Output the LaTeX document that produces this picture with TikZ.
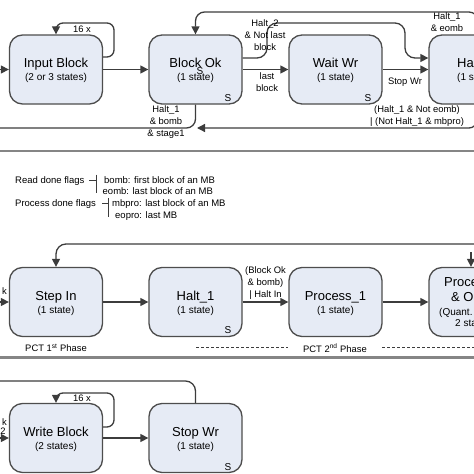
\documentclass[tikz,border=0pt]{standalone}
\usepackage{fontspec}
\setmainfont{Liberation Sans}
\usetikzlibrary{arrows.meta,calc}
\definecolor{boxf}{HTML}{E6EBF5}
\definecolor{boxd}{HTML}{4D4D4D}
\definecolor{linec}{HTML}{3C3C3C}
\definecolor{sepc}{HTML}{858585}
\begin{document}
\begin{tikzpicture}[x=1pt,y=-1pt,
  stbox/.style={draw=boxd, fill=boxf, line width=1.3pt, rounded corners=13pt, minimum width=93pt, minimum height=69pt, inner sep=0pt},
  ttl/.style={font=\fontsize{13}{15}\selectfont, anchor=base, inner sep=0pt},
  substyle/.style={font=\fontsize{10}{12}\selectfont, anchor=base, inner sep=0pt},
  ttlw/.style={font=\fontsize{13}{15}\selectfont, anchor=base west, inner sep=0pt},
  subw/.style={font=\fontsize{10}{12}\selectfont, anchor=base west, inner sep=0pt},
  lbl/.style={font=\fontsize{9.4}{12}\selectfont, inner sep=0pt, align=center},
  cornerS/.style={font=\fontsize{10}{12}\selectfont, inner sep=0pt},
  leg/.style={font=\fontsize{9.5}{11}\selectfont, anchor=base west, inner sep=0pt},
  arr/.style={draw=linec, line width=1.3pt, -{Triangle[length=8pt,width=8pt]}},
  ln/.style={draw=linec, line width=1.3pt},
  sepl/.style={draw=sepc, line width=2.2pt},
  brk/.style={draw=linec, line width=0.8pt},
  dsh/.style={draw=linec, line width=0.7pt, dash pattern=on 3pt off 2pt}]
\useasboundingbox (0,0) rectangle (474,474);
\clip (0,0) rectangle (474,474);

% ---------- top row ----------
\node[stbox] (ib) at (56,69.5) {};
\node[ttl] (ibt) at (56,67.5) {Input Block};
\node[substyle] (ibs) at (56,80.5) {(2 or 3 states)};

\node[stbox] (bo) at (195.5,69.5) {};
\node[ttl] (bot) at (195.5,67.5) {Block Ok};
\node[substyle] (bos) at (195.5,80.5) {(1 state)};
\node[cornerS] (box) at (200,71) {S};
\node[cornerS] (boc) at (228,98) {S};

\node[stbox] (ww) at (335.5,69.5) {};
\node[ttl] (wwt) at (335.5,67.5) {Wait Wr};
\node[substyle] (wws) at (335.5,80.5) {(1 state)};
\node[cornerS] (wwc) at (368,98) {S};

\node[stbox] (hb) at (475.5,69.5) {};
\node[ttlw] (hbt) at (457,67.5) {Ha};
\node[subw] (hbs) at (457,80.5) {(1 s};

\coordinate (e1) at (0,69.5);
\draw[arr] (e1) -- (ib.west);
\draw[arr, rounded corners=7pt] ([yshift=12.5pt]ib.east) -- (114,57) -- (114,23) -- (56,23) -- (ib.north);
\node[lbl] (l16a) at (82,29) {16 x};
\draw[arr] (ib.east) -- (bo.west);
\coordinate (fbt) at (478,45);
\draw[arr, rounded corners=9pt] (fbt) -- (478,12) -- (195.5,12) -- (bo.north);
\draw[arr] (bo.east) -- (ww.west);
\node[lbl] (llb) at (267,82.5) {last\\block};
\draw[arr, rounded corners=10pt] ([yshift=11.5pt]bo.east) -- (267,58) -- (267,23) -- (405,23) -- (405,58) -- ([yshift=11.5pt]hb.west);
\node[lbl] (lh2) at (265,35) {Halt\_2\\\& Not last\\block};
\draw[arr] (ww.east) -- (hb.west);
\node[lbl] (lsw) at (405,82) {Stop Wr};
\node[lbl] (lh1e) at (447,22.5) {Halt\_1\\\& eomb};
\coordinate (bl) at (0,128);
\draw[ln, rounded corners=9pt] (bo.south) -- (195.5,128) -- (bl);
\coordinate (brs) at (477,105);
\coordinate (brj) at (197,128);
\draw[arr, rounded corners=8pt] (brs) -- (477,128) -- (brj);
\node[lbl] (lhb) at (166,122.5) {Halt\_1\\\& bomb\\\& stage1};
\node[lbl] (lne) at (417,116) {(Halt\_1 \& Not eomb)\\| (Not Halt\_1 \& mbpro)};
\draw[sepl] (0,151) -- (474,151);

% ---------- legend ----------
\node[leg] (rf) at (15,183.3) {Read done flags};
\draw[brk] (89,180) -- (96,180);
\draw[brk] (96,174.5) -- (96,192.5);
\node[leg] (bm) at (104,183.3) {bomb: first block of an MB};
\node[leg] (em) at (102.5,194.3) {eomb: last block of an MB};
\node[leg] (pf) at (15,206.3) {Process done flags};
\draw[brk] (102,203) -- (108,203);
\draw[brk] (108,198) -- (108,217);
\node[leg] (mp) at (112,206.3) {mbpro: last block of an MB};
\node[leg] (ep) at (115,218.3) {eopro: last MB};

% ---------- middle row ----------
\node[stbox] (si) at (56,302) {};
\node[ttl] (sit) at (56,300) {Step In};
\node[substyle] (sis) at (56,313.5) {(1 state)};

\node[stbox] (h1) at (195.5,302) {};
\node[ttl] (h1t) at (195.5,300) {Halt\_1};
\node[substyle] (h1s) at (195.5,313.5) {(1 state)};
\node[cornerS] (h1c) at (228,330) {S};

\node[stbox] (p1) at (335.5,302) {};
\node[ttl] (p1t) at (335.5,300) {Process\_1};
\node[substyle] (p1s) at (335.5,313.5) {(1 state)};

\node[stbox] (pr) at (475.5,302) {};
\node[ttlw] (prt) at (444,286.7) {Proce};
\node[ttlw] (prt2) at (451,301.7) {\& O};
\node[subw] (prs) at (439,315.6) {(Quant.};
\node[subw] (prs2) at (455,326.6) {2 sta};

\coordinate (e2) at (0,302);
\draw[arr] (e2) -- (si.west);
\node[lbl] (k2) at (4.5,291) {k};
\coordinate (fbm) at (480,244);
\draw[arr, rounded corners=10pt] (fbm) -- (56,244) -- (si.north);
\coordinate (prin) at (471,252);
\draw[arr] (prin) -- ([xshift=-4.5pt]pr.north);
\draw[arr] (si.east) -- (h1.west);
\draw[arr] (h1.east) -- (p1.west);
\node[lbl] (lbk) at (265.5,283) {(Block Ok\\\& bomb)\\| Halt In};
\draw[arr] (p1.east) -- (pr.west);
\node[lbl] (ph1) at (56,348) {PCT 1\textsuperscript{st} Phase};
\node[lbl] (ph2) at (335,348) {PCT 2\textsuperscript{nd} Phase};
\draw[dsh] (196,347) -- (288,347);
\draw[dsh] (382,347) -- (474,347);
\draw[sepl] (0,357.5) -- (474,357.5);

% ---------- bottom row ----------
\node[stbox] (wb) at (56,438) {};
\node[ttl] (wbt) at (56,436) {Write Block};
\node[substyle] (wbs) at (56,449) {(2 states)};

\node[stbox] (sw) at (195.5,438) {};
\node[ttl] (swt) at (195.5,436) {Stop Wr};
\node[substyle] (sws) at (195.5,449) {(1 state)};
\node[cornerS] (swc) at (228,467) {S};

\coordinate (tl3) at (0,381);
\draw[ln, rounded corners=10pt] (sw.north) -- (195.5,381) -- (tl3);
\coordinate (e3) at (0,438);
\draw[arr] (e3) -- (wb.west);
\node[lbl] (k3) at (4.5,422) {k};
\node[lbl] (k3b) at (3,431) {2};
\draw[arr, rounded corners=7pt] ([yshift=11pt]wb.east) -- (114,427) -- (114,393) -- (56,393) -- (wb.north);
\node[lbl] (l16b) at (82,398) {16 x};
\draw[arr] (wb.east) -- (sw.west);
\end{tikzpicture}
\end{document}
